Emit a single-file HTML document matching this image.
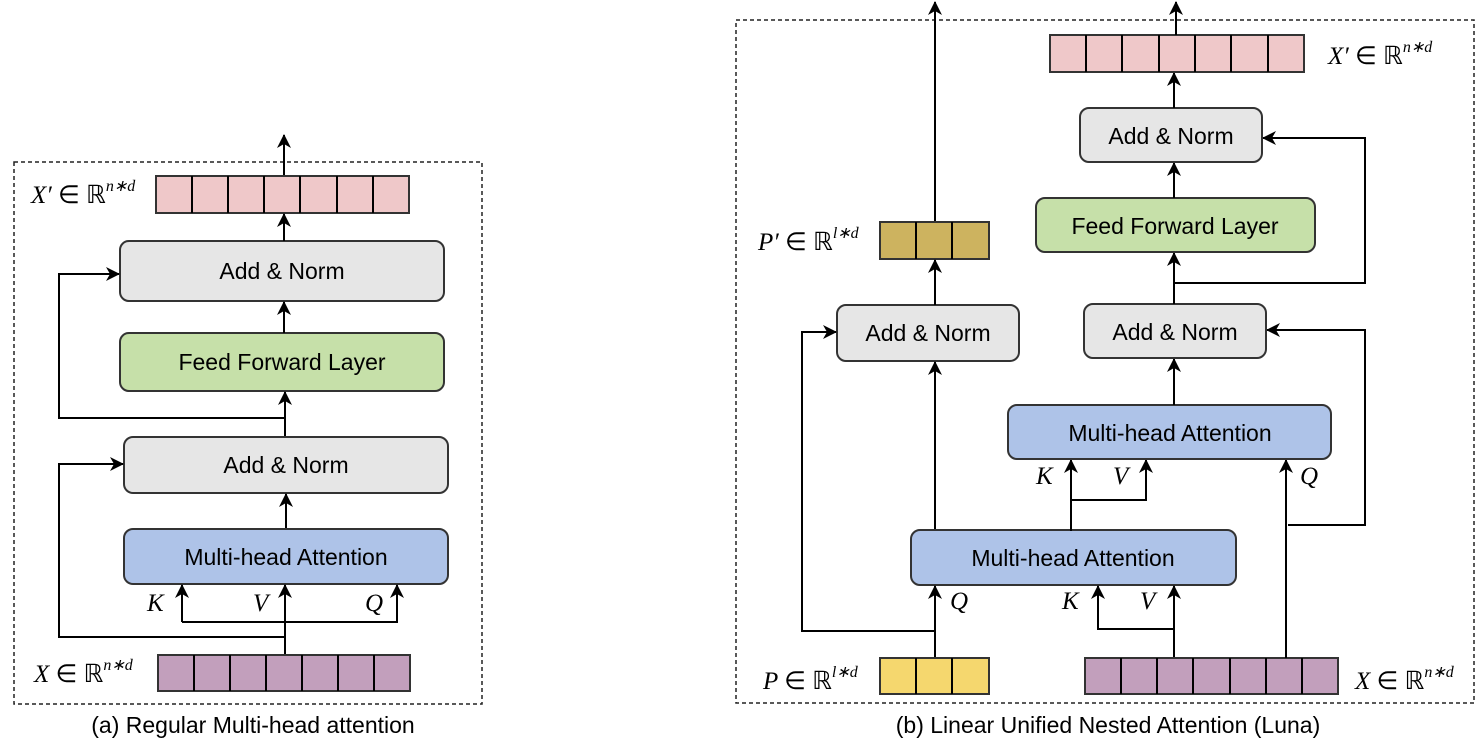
<!DOCTYPE html>
<html><head><meta charset="utf-8"><style>
html,body{margin:0;padding:0;background:#fff;}
svg{display:block;}
.b{font-family:"Liberation Sans",sans-serif;font-size:23px;fill:#000;text-anchor:middle;}
.m{font-family:"Liberation Serif",serif;font-style:italic;font-size:25px;fill:#000;}
.r{font-style:normal;}
.s{font-style:italic;font-size:16px;}
.cap{font-family:"Liberation Sans",sans-serif;font-size:23px;fill:#000;text-anchor:middle;}
line,polyline{stroke:#000;stroke-width:2;fill:none;}
</style></head><body>
<svg width="1484" height="754" viewBox="0 0 1484 754" xmlns="http://www.w3.org/2000/svg">
<defs>
<marker id="A" markerWidth="14" markerHeight="14" refX="13" refY="7" orient="auto" markerUnits="userSpaceOnUse" viewBox="0 0 14 14">
<path d="M0,0 L14,7 L0,14 L4,7 z" fill="#000"/>
</marker>
</defs>

<!-- LEFT PANEL -->
<rect x="14" y="162" width="468" height="542" fill="none" stroke="#222" stroke-width="1.5" stroke-dasharray="4,3"/>
<line x1="284" y1="176" x2="284" y2="135" marker-end="url(#A)"/>
<rect x="156" y="176" width="253" height="37" fill="#efc8c9" stroke="#333" stroke-width="2"/>
<g stroke="#333" stroke-width="2">
<line x1="192" y1="176" x2="192" y2="213"/><line x1="228" y1="176" x2="228" y2="213"/><line x1="264" y1="176" x2="264" y2="213"/><line x1="300" y1="176" x2="300" y2="213"/><line x1="337" y1="176" x2="337" y2="213"/><line x1="373" y1="176" x2="373" y2="213"/>
</g>
<text x="31" y="203" class="m">X′ <tspan class="r">∈ ℝ</tspan><tspan class="s" dy="-12">n∗d</tspan></text>

<rect x="120" y="241" width="324" height="60" rx="9" fill="#e6e6e6" stroke="#333" stroke-width="2"/>
<text x="282" y="279" class="b">Add &amp; Norm</text>
<line x1="284" y1="241" x2="284" y2="214" marker-end="url(#A)"/>

<rect x="120" y="333" width="324" height="58" rx="9" fill="#c6e0a9" stroke="#333" stroke-width="2"/>
<text x="282" y="370" class="b">Feed Forward Layer</text>
<line x1="284" y1="333" x2="284" y2="302" marker-end="url(#A)"/>

<line x1="285" y1="437" x2="285" y2="392" marker-end="url(#A)"/>
<polyline points="286,418 59,418 59,274 119,274" marker-end="url(#A)"/>

<rect x="124" y="437" width="324" height="56" rx="9" fill="#e6e6e6" stroke="#333" stroke-width="2"/>
<text x="286" y="473" class="b">Add &amp; Norm</text>
<line x1="286" y1="529" x2="286" y2="494" marker-end="url(#A)"/>

<rect x="124" y="529" width="324" height="55" rx="9" fill="#aec3e8" stroke="#333" stroke-width="2"/>
<text x="286" y="565" class="b">Multi-head Attention</text>

<line x1="285" y1="655" x2="285" y2="585" marker-end="url(#A)"/>
<polyline points="182,622 182,585" marker-end="url(#A)"/>
<polyline points="182,622 397,622 397,585" marker-end="url(#A)"/>
<polyline points="285,637 59,637 59,464 123,464" marker-end="url(#A)"/>
<text x="147" y="611" class="m">K</text>
<text x="253" y="611" class="m">V</text>
<text x="365" y="611" class="m">Q</text>

<rect x="158" y="655" width="252" height="36" fill="#c29fbc" stroke="#333" stroke-width="2"/>
<g stroke="#333" stroke-width="2">
<line x1="194" y1="655" x2="194" y2="691"/><line x1="230" y1="655" x2="230" y2="691"/><line x1="266" y1="655" x2="266" y2="691"/><line x1="302" y1="655" x2="302" y2="691"/><line x1="338" y1="655" x2="338" y2="691"/><line x1="374" y1="655" x2="374" y2="691"/>
</g>
<text x="34" y="682" class="m">X <tspan class="r">∈ ℝ</tspan><tspan class="s" dy="-12">n∗d</tspan></text>

<text x="253" y="733" class="cap">(a) Regular Multi-head attention</text>

<!-- RIGHT PANEL -->
<rect x="736" y="20" width="738" height="683" fill="none" stroke="#222" stroke-width="1.5" stroke-dasharray="4,3"/>

<line x1="935" y1="222" x2="935" y2="2" marker-end="url(#A)"/>
<rect x="880" y="222" width="109" height="37" fill="#cdb35f" stroke="#333" stroke-width="2"/>
<g stroke="#333" stroke-width="2"><line x1="916" y1="222" x2="916" y2="259"/><line x1="952" y1="222" x2="952" y2="259"/></g>
<text x="758" y="250" class="m">P′ <tspan class="r">∈ ℝ</tspan><tspan class="s" dy="-12">l∗d</tspan></text>

<rect x="837" y="305" width="182" height="56" rx="9" fill="#e6e6e6" stroke="#333" stroke-width="2"/>
<text x="928" y="341" class="b">Add &amp; Norm</text>
<line x1="935" y1="305" x2="935" y2="260" marker-end="url(#A)"/>
<line x1="935" y1="531" x2="935" y2="362" marker-end="url(#A)"/>
<polyline points="935,631 802,631 802,332 836,332" marker-end="url(#A)"/>

<rect x="911" y="530" width="325" height="55" rx="9" fill="#aec3e8" stroke="#333" stroke-width="2"/>
<text x="1073" y="566" class="b">Multi-head Attention</text>
<line x1="935" y1="658" x2="935" y2="586" marker-end="url(#A)"/>
<text x="950" y="609" class="m">Q</text>
<line x1="1174" y1="658" x2="1174" y2="586" marker-end="url(#A)"/>
<polyline points="1174,629 1098,629 1098,586" marker-end="url(#A)"/>
<text x="1062" y="609" class="m">K</text>
<text x="1140" y="609" class="m">V</text>

<rect x="880" y="658" width="109" height="36" fill="#f5d76e" stroke="#333" stroke-width="2"/>
<g stroke="#333" stroke-width="2"><line x1="916" y1="658" x2="916" y2="694"/><line x1="952" y1="658" x2="952" y2="694"/></g>
<text x="763" y="689" class="m">P <tspan class="r">∈ ℝ</tspan><tspan class="s" dy="-12">l∗d</tspan></text>

<rect x="1085" y="658" width="253" height="36" fill="#c29fbc" stroke="#333" stroke-width="2"/>
<g stroke="#333" stroke-width="2"><line x1="1121" y1="658" x2="1121" y2="694"/><line x1="1157" y1="658" x2="1157" y2="694"/><line x1="1193" y1="658" x2="1193" y2="694"/><line x1="1230" y1="658" x2="1230" y2="694"/><line x1="1266" y1="658" x2="1266" y2="694"/><line x1="1302" y1="658" x2="1302" y2="694"/></g>
<text x="1355" y="689" class="m">X <tspan class="r">∈ ℝ</tspan><tspan class="s" dy="-12">n∗d</tspan></text>

<line x1="1286" y1="658" x2="1286" y2="460" marker-end="url(#A)"/>
<text x="1300" y="484" class="m">Q</text>
<polyline points="1288,525 1365,525 1365,330 1267,330" marker-end="url(#A)"/>
<line x1="1071" y1="531" x2="1071" y2="460" marker-end="url(#A)"/>
<polyline points="1071,500 1146,500 1146,460" marker-end="url(#A)"/>
<text x="1036" y="484" class="m">K</text>
<text x="1113" y="484" class="m">V</text>

<rect x="1008" y="405" width="323" height="54" rx="9" fill="#aec3e8" stroke="#333" stroke-width="2"/>
<text x="1170" y="441" class="b">Multi-head Attention</text>
<line x1="1174" y1="405" x2="1174" y2="359" marker-end="url(#A)"/>

<rect x="1084" y="304" width="182" height="54" rx="9" fill="#e6e6e6" stroke="#333" stroke-width="2"/>
<text x="1175" y="340" class="b">Add &amp; Norm</text>
<line x1="1174" y1="304" x2="1174" y2="253" marker-end="url(#A)"/>
<polyline points="1175,283 1365,283 1365,138 1263,138" marker-end="url(#A)"/>

<rect x="1036" y="198" width="279" height="54" rx="9" fill="#c6e0a9" stroke="#333" stroke-width="2"/>
<text x="1175" y="234" class="b">Feed Forward Layer</text>
<line x1="1174" y1="198" x2="1174" y2="163" marker-end="url(#A)"/>

<rect x="1080" y="108" width="182" height="54" rx="9" fill="#e6e6e6" stroke="#333" stroke-width="2"/>
<text x="1171" y="144" class="b">Add &amp; Norm</text>
<line x1="1174" y1="108" x2="1174" y2="73" marker-end="url(#A)"/>

<rect x="1050" y="35" width="254" height="37" fill="#efc8c9" stroke="#333" stroke-width="2"/>
<g stroke="#333" stroke-width="2"><line x1="1086" y1="35" x2="1086" y2="72"/><line x1="1122" y1="35" x2="1122" y2="72"/><line x1="1159" y1="35" x2="1159" y2="72"/><line x1="1195" y1="35" x2="1195" y2="72"/><line x1="1231" y1="35" x2="1231" y2="72"/><line x1="1268" y1="35" x2="1268" y2="72"/></g>
<line x1="1176" y1="35" x2="1176" y2="2" marker-end="url(#A)"/>
<text x="1328" y="64" class="m">X′ <tspan class="r">∈ ℝ</tspan><tspan class="s" dy="-12">n∗d</tspan></text>

<text x="1108" y="733" class="cap">(b) Linear Unified Nested Attention (Luna)</text>
</svg>
</body></html>
